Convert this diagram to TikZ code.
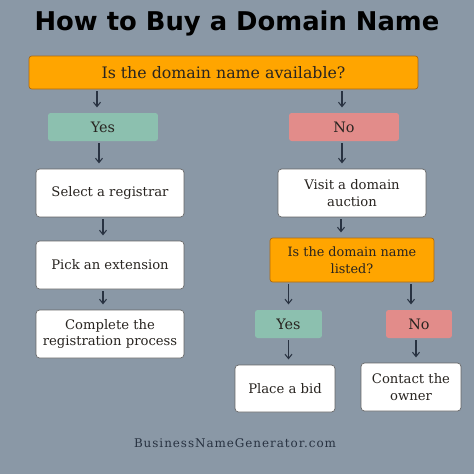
\documentclass[tikz,border=0pt]{standalone}
\usepackage{fontspec}
\setmainfont{DejaVu Serif}
\newfontfamily\titlefont{DejaVu Sans}
\newfontfamily\sitefont[LetterSpace=8]{DejaVu Serif}
\usetikzlibrary{positioning, arrows.meta}
\definecolor{bg}{RGB}{138,152,166}
\definecolor{quest}{RGB}{255,165,0}
\definecolor{questline}{RGB}{170,105,20}
\definecolor{yesfill}{RGB}{140,192,175}
\definecolor{nofill}{RGB}{226,140,138}
\definecolor{ink}{RGB}{40,36,32}
\definecolor{arrowink}{RGB}{40,50,65}
\tikzstyle{txt}=[text=ink, font=\fontsize{7.5}{9.6}\selectfont, align=center, inner sep=1pt]
\tikzstyle{quest}=[txt, draw=questline, fill=quest, rounded corners=1.5pt]
\tikzstyle{yes}=[txt, font=\fontsize{8.2}{10}\selectfont, fill=yesfill, rounded corners=1.5pt, minimum height=0.56cm]
\tikzstyle{no}=[txt, font=\fontsize{8.2}{10}\selectfont, fill=nofill, rounded corners=1.5pt, minimum height=0.56cm]
\tikzstyle{stepbox}=[txt, draw=gray!80!black, fill=white, rounded corners=2pt, minimum height=0.96cm, minimum width=2.96cm]
\tikzstyle{arr}=[->, draw=arrowink, semithick, shorten >=3pt, shorten <=1pt]

\begin{document}
\begin{tikzpicture}[x=0.02cm, y=-0.02cm, >={Straight Barb[length=2.5pt,width=4pt]}]
      \fill[bg] (0,0) rectangle (474,474);
      \useasboundingbox (0,0) rectangle (474,474);
      \node [font=\titlefont\bfseries\fontsize{14.7}{18}\selectfont] (title) at (237,23) {How to Buy a Domain Name};
      \node [quest, font=\fontsize{9}{11}\selectfont, minimum width=7.78cm, minimum height=0.66cm] (avail) at (223.5,72.5) {Is the domain name available?};
      % left branch
      \node [yes, minimum width=2.2cm] (yes1) at (103,127) {Yes};
      \node [stepbox] (reg) at (110,193) {Select a registrar};
      \node [stepbox] (ext) at (110,265) {Pick an extension};
      \node [stepbox] (comp) at (110,334) {Complete the\\registration process};
      % right branch
      \node [no, minimum width=2.2cm] (no1) at (344,127) {No};
      \node [stepbox] (visit) at (352,193) {Visit a domain\\auction};
      \node [quest, font=\fontsize{7.3}{9.4}\selectfont, minimum width=3.28cm, minimum height=0.88cm] (listed) at (352,260) {Is the domain name\\listed?};
      \node [yes, minimum width=1.34cm] (yes2) at (288.5,324) {Yes};
      \node [no, minimum width=1.32cm] (no2) at (419,324) {No};
      \node [stepbox, minimum width=2cm, minimum height=0.94cm] (bid) at (285,388.5) {Place a bid};
      \node [stepbox, minimum width=2cm] (owner) at (411,387) {Contact the\\owner};
      \node [text=arrowink, font=\sitefont\fontsize{6.8}{9}\selectfont] (site) at (235,443) {BusinessNameGenerator.com};

      \draw[arr] ([xshift=-0.12cm]yes1.north |- avail.south) -- ([xshift=-0.12cm]yes1.north);
      \draw[arr] ([xshift=-0.04cm]no1.north |- avail.south) -- ([xshift=-0.04cm]no1.north);
      \draw[arr] ([xshift=-0.08cm]yes1.south) -- ([xshift=-0.08cm]yes1.south |- reg.north);
      \draw[arr] ([xshift=-0.14cm]reg.south) -- ([xshift=-0.14cm]ext.north);
      \draw[arr] ([xshift=-0.14cm]ext.south) -- ([xshift=-0.14cm]comp.north);
      \draw[arr] ([xshift=-0.04cm]no1.south) -- ([xshift=-0.04cm]no1.south |- visit.north);
      \draw[arr] ([xshift=-0.22cm]visit.south) -- ([xshift=-0.22cm]listed.north);
      \draw[arr] (yes2.north |- listed.south) -- (yes2.north);
      \draw[arr] ([xshift=-0.16cm]no2.north |- listed.south) -- ([xshift=-0.16cm]no2.north);
      \draw[arr] (yes2.south) -- (yes2.south |- bid.north);
      \draw[arr] ([xshift=-0.06cm]no2.south) -- ([xshift=-0.06cm]no2.south |- owner.north);
  \end{tikzpicture}
\end{document}
